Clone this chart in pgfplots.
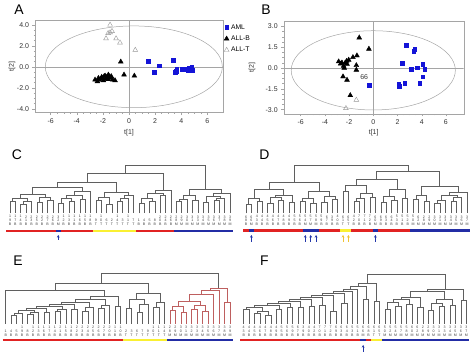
\documentclass[border=0pt]{standalone}
\usepackage{fontspec}
\setmainfont{Liberation Sans}
\usepackage{pgfplots}
\pgfplotsset{compat=1.18}
\usetikzlibrary{arrows.meta}
\definecolor{sqblue}{RGB}{20,20,215}
\definecolor{barred}{RGB}{225,35,35}
\definecolor{baryel}{RGB}{250,240,50}
\definecolor{barblue}{RGB}{35,45,165}
\definecolor{arrblue}{RGB}{35,55,170}
\definecolor{arryel}{RGB}{240,195,50}
\definecolor{dgray}{RGB}{95,95,95}
\definecolor{amlred}{RGB}{190,95,95}
\definecolor{axgray}{RGB}{165,165,165}
\definecolor{tgray}{RGB}{150,150,150}
\newcommand{\mg}[5]{\addplot[dend] coordinates {(#1,#2) (#1,#5) (#3,#5) (#3,#4)};}
\newcommand{\mgr}[5]{\addplot[dendr] coordinates {(#1,#2) (#1,#5) (#3,#5) (#3,#4)};}
\newcommand{\Lb}[3]{#1\\#2\\#3}
\newcommand{\Ls}[2]{\phantom{0}\\#1\\#2}
\pgfplotsset{
  scat/.style={scale only axis, anchor=south west,
    axis line style={axgray, line width=0.4bp},
    tick style={axgray, line width=0.4bp},
    tick align=outside, xtick pos=bottom, ytick pos=left,
    major tick length=2.5bp, minor tick length=1.3bp,
    minor x tick num=3, minor y tick num=3,
    tick label style={font=\fontsize{7}{8}\selectfont, text=black!80},
    label style={font=\fontsize{7}{8}\selectfont, text=black!80},
    /pgf/number format/assume math mode=true},
  dendro/.style={scale only axis, anchor=south west,
    axis line style={draw=none}, tick style={draw=none},
    major tick length=0pt, ytick=\empty, xtick={1,...,42},
    xmin=1, xmax=42, ymin=0, clip=false,
    xticklabel style={align=center, font=\fontsize{3.6}{3.8}\selectfont,
      text=black!75, inner sep=0pt, yshift=-2bp}},
  dend/.style={dgray, line width=0.5bp, no markers},
  dendr/.style={amlred, line width=0.5bp, no markers},
  cbar/.style={line width=2.5bp, no markers},
  arr/.style={line width=0.7bp, no markers, -{Stealth[length=2.6bp,width=2.8bp]}},
}
\begin{document}
\begin{tikzpicture}
\useasboundingbox (0,0) rectangle (474bp,353bp);
\begin{scope}[font=\fontsize{14}{16}\selectfont]
\node at (19bp,343bp) {A};
\node at (266bp,343.5bp) {B};
\node at (17bp,198.3bp) {C};
\node at (264.5bp,198.3bp) {D};
\node at (18bp,92bp) {E};
\node at (264.3bp,92bp) {F};
\end{scope}

% ---------------- Panel A ----------------
\begin{axis}[scat, at={(35bp,240.3bp)}, width=188bp, height=92bp,
  xmin=-7.2, xmax=7.2, ymin=-4.38, ymax=4.4,
  xtick={-6,-4,-2,0,2,4,6}, ytick={-4,-2,0,2,4},
  yticklabel style={/pgf/number format/fixed, /pgf/number format/fixed zerofill, /pgf/number format/precision=1},
  xlabel={t[1]}, ylabel={t[2]},
  xlabel style={at={(axis description cs:0.5,-0.217)}, anchor=center},
  ylabel style={at={(axis description cs:-0.122,0.5)}, anchor=center},
  legend style={at={(1.0,0.995)}, anchor=north west, draw=none, fill=none,
    inner sep=1bp, row sep=1.2bp, font=\fontsize{6.8}{8}\selectfont},
  legend cell align=left,
  legend image code/.code={\draw[#1] plot coordinates {(0.12cm,0cm)};}]
\addplot[axgray, line width=0.4bp, forget plot] coordinates {(0,-4.38) (0,4.4)};
\addplot[axgray, line width=0.4bp, forget plot] coordinates {(-7.2,0) (7.2,0)};
\draw[axgray, line width=0.5bp] (axis cs:0.37,0) ellipse [x radius=6.78, y radius=3.9];
\addplot[only marks, mark=square*, mark size=1.9bp, sqblue] coordinates {
(1.5,0.5) (2.3,0.1) (1.9,-0.55) (3.4,0.65) (3.6,-0.4) (3.65,-0.2) (3.55,-0.5)
(4.1,-0.2) (4.4,-0.25) (4.6,-0.15) (4.8,-0.05) (4.85,-0.3) (4.5,-0.3)};
\addlegendentry{AML}
\addplot[only marks, mark=triangle*, mark size=2.8bp, black] coordinates {
(-2.6,-1.24) (-2.34,-1.08) (-2.09,-0.98) (-1.83,-0.86) (-1.76,-1.17) (-1.58,-0.76)
(-1.45,-1.08) (-1.25,-1.24) (-1.07,-1.3) (-2.42,-1.4) (-1.96,-1.3) (-2.18,-1.17)
(-1.7,-0.98) (-1.36,-0.91) (-2.0,-1.1) (-1.6,-1.2) (-2.3,-1.25) (-1.5,-0.95)
(-1.9,-0.9) (-0.63,0.48) (-0.38,-0.76) (0.41,-0.86)};
\addlegendentry{ALL-B}
\addplot[only marks, mark=triangle, mark size=2.8bp, tgray, mark options={fill=white}] coordinates {
(-1.45,4.0) (-1.45,3.27) (-1.6,3.2) (-1.76,2.7) (-0.99,2.7) (-0.69,2.3) (0.48,1.6) (-1.3,3.4)};
\addlegendentry{ALL-T}
\end{axis}

% ---------------- Panel B ----------------
\begin{axis}[scat, at={(283.7bp,239bp)}, width=180bp, height=93bp,
  xmin=-7.4, xmax=7.47, ymin=-3.31, ymax=3.38,
  xtick={-6,-4,-2,0,2,4,6}, ytick={-3,-1.5,0,1.5,3},
  yticklabel style={/pgf/number format/fixed, /pgf/number format/fixed zerofill, /pgf/number format/precision=1},
  xlabel={t[1]}, ylabel={t[2]},
  xlabel style={at={(axis description cs:0.5,-0.2)}, anchor=center},
  ylabel style={at={(axis description cs:-0.176,0.5)}, anchor=center}]
\addplot[axgray, line width=0.4bp] coordinates {(0,-3.31) (0,3.38)};
\addplot[axgray, line width=0.4bp] coordinates {(-7.4,0) (7.47,0)};
\draw[axgray, line width=0.5bp] (axis cs:0,-0.17) ellipse [x radius=6.78, y radius=2.85];
\addplot[only marks, mark=square*, mark size=1.9bp, sqblue] coordinates {
(-0.36,-1.25) (2.73,1.65) (3.42,1.34) (3.34,1.22) (2.37,0.34) (3.14,-0.07) (3.64,0.02)
(4.08,0.29) (4.25,-0.10) (4.08,-0.62) (3.83,-1.1) (2.6,-1.1) (2.1,-1.18) (2.12,-1.3)};
\addplot[only marks, mark=triangle*, mark size=2.8bp, black] coordinates {
(-1.16,2.18) (-0.36,1.37) (-1.35,0.89) (-1.68,0.77) (-2.03,0.58) (-2.86,0.46) (-2.59,0.38)
(-2.31,0.38) (-2.17,0.29) (-2.45,0.14) (-2.4,0.0) (-1.4,0.19) (-1.4,-0.14) (-2.5,-0.62)
(-2.17,-0.86) (-1.9,-1.97) (-2.7,0.3) (-2.2,0.5)};
\addplot[only marks, mark=triangle, mark size=2.8bp, tgray, mark options={fill=white}] coordinates {
(-1.4,-2.3) (-2.26,-2.9)};
\node[font=\fontsize{7}{8}\selectfont, text=black!80] at (axis cs:-0.75,-0.62) {66};
\end{axis}

% ---------------- Panel C ----------------
\begin{axis}[dendro, at={(10bp,139.7bp)}, width=220bp, height=48.3bp, ymax=48.3,
  xticklabels={\Lb19B,\Lb17B,\Lb14B,\Lb21B,\Lb23B,\Lb25B,\Lb22B,\Lb27B,\Lb26B,\Lb32M,\Lb12B,\Lb13B,\Lb11B,\Lb16B,\Lb15B,\Lb18B,\Ls9T,\Lb10T,\Ls6T,\Ls2T,\Lb14T,\Ls3T,\Lb11T,\Ls7T,\Ls1B,\Ls4B,\Ls5B,\Ls8B,\Lb20B,\Lb24B,\Lb26B,\Lb28M,\Lb29M,\Lb30M,\Lb31M,\Lb33M,\Lb34M,\Lb35M,\Lb36M,\Lb37M,\Lb38M,\Lb39M}]
\mg{1}{0}{2}{0}{12}
\mg{3}{0}{4}{0}{9}
\mg{3.5}{9}{5}{0}{12}
\mg{1.5}{12}{4.25}{12}{15}
\mg{6}{0}{7}{0}{11}
\mg{8}{0}{9}{0}{13}
\mg{6.5}{11}{8.5}{13}{16}
\mg{2.875}{15}{7.5}{16}{19}
\mg{10}{0}{11}{0}{10}
\mg{12}{0}{13}{0}{12}
\mg{10.5}{10}{12.5}{12}{15}
\mg{14}{0}{15}{0}{14}
\mg{11.5}{15}{14.5}{14}{18}
\mg{13}{18}{16}{0}{22}
\mg{5.1875}{19}{14.5}{22}{26.3}
\mg{17}{0}{18}{0}{13}
\mg{19}{0}{20}{0}{9}
\mg{17.5}{13}{19.5}{9}{16}
\mg{21}{0}{22}{0}{12}
\mg{21.5}{12}{23}{0}{15}
\mg{22.25}{15}{24}{0}{18}
\mg{18.5}{16}{23.125}{18}{21.3}
\mg{9.84375}{26.3}{20.8125}{21.3}{31.3}
\mg{25}{0}{26}{0}{10}
\mg{27}{0}{28}{0}{12}
\mg{25.5}{10}{27.5}{12}{15}
\mg{29}{0}{30}{0}{18}
\mg{26.5}{15}{29.5}{18}{20}
\mg{28}{20}{31}{0}{23}
\mg{15.328}{31.3}{29.5}{23}{39.7}
\mg{32}{0}{33}{0}{12}
\mg{32.5}{12}{34}{0}{14}
\mg{35}{0}{36}{0}{13}
\mg{33.25}{14}{35.5}{13}{18}
\mg{37}{0}{38}{0}{11}
\mg{39}{0}{40}{0}{13}
\mg{39.5}{13}{41}{0}{15}
\mg{37.5}{11}{40.25}{15}{17}
\mg{38.875}{17}{42}{0}{20}
\mg{34.375}{18}{40.4375}{20}{23.7}
\mg{22.414}{39.7}{37.406}{23.7}{48.3}
\addplot[cbar, barred] coordinates {(0.3,-17.7) (9.5,-17.7)};
\addplot[cbar, barblue] coordinates {(9.5,-17.7) (10.5,-17.7)};
\addplot[cbar, barred] coordinates {(10.5,-17.7) (16.5,-17.7)};
\addplot[cbar, baryel] coordinates {(16.5,-17.7) (24.5,-17.7)};
\addplot[cbar, barred] coordinates {(24.5,-17.7) (31.5,-17.7)};
\addplot[cbar, barblue] coordinates {(31.5,-17.7) (42.6,-17.7)};
\addplot[arr, arrblue] coordinates {(10,-26.7) (10,-21.7)};
\end{axis}

% ---------------- Panel D ----------------
\begin{axis}[dendro, at={(246bp,139.7bp)}, width=221bp, height=48.3bp, ymax=48.3,
  xticklabels={\Lb68B,\Lb66M,\Lb43B,\Lb44B,\Lb45B,\Lb46B,\Lb47B,\Lb48B,\Lb49B,\Lb55B,\Lb56B,\Lb54M,\Lb57M,\Lb58M,\Lb59B,\Lb67B,\Lb39B,\Lb40B,\Lb61T,\Lb65T,\Lb42B,\Lb70B,\Lb71B,\Lb72B,\Lb60M,\Lb69B,\Lb63B,\Lb64B,\Lb53B,\Lb51B,\Lb52B,\Lb50M,\Lb62M,\Lb28M,\Lb29M,\Lb30M,\Lb31M,\Lb33M,\Lb34M,\Lb35M,\Lb36M,\Lb37M}]
\mg{1}{0}{2}{0}{9}
\mg{3}{0}{4}{0}{12}
\mg{1.5}{9}{3.5}{12}{15}
\mg{5}{0}{6}{0}{10}
\mg{7}{0}{8}{0}{13}
\mg{5.5}{10}{7.5}{13}{16}
\mg{9}{0}{10}{0}{11}
\mg{6.5}{16}{9.5}{11}{18}
\mg{2.5}{15}{8}{18}{24}
\mg{11}{0}{12}{0}{12}
\mg{13}{0}{14}{0}{10}
\mg{11.5}{12}{13.5}{10}{15}
\mg{15}{0}{16}{0}{11}
\mg{17}{0}{18}{0}{14}
\mg{15.5}{11}{17.5}{14}{17}
\mg{12.5}{15}{16.5}{17}{21.7}
\mg{5.25}{24}{14.5}{21.7}{30.7}
\mg{19}{0}{20}{0}{22}
\mg{21}{0}{22}{0}{12}
\mg{21.5}{12}{23}{0}{15}
\mg{24}{0}{25}{0}{16}
\mg{22.25}{15}{24.5}{16}{20}
\mg{19.5}{22}{23.375}{20}{28}
\mg{26}{0}{27}{0}{11}
\mg{28}{0}{29}{0}{13}
\mg{26.5}{11}{28.5}{13}{17}
\mg{30}{0}{31}{0}{15}
\mg{27.5}{17}{30.5}{15}{24}
\mg{21.4375}{28}{29}{24}{34}
\mg{32}{0}{33}{0}{14}
\mg{34}{0}{35}{0}{12}
\mg{32.5}{14}{34.5}{12}{18}
\mg{36}{0}{37}{0}{10}
\mg{36.5}{10}{38}{0}{13}
\mg{39}{0}{40}{0}{12}
\mg{39.5}{12}{41}{0}{16}
\mg{37.25}{13}{40.25}{16}{18.5}
\mg{38.75}{18.5}{42}{0}{21}
\mg{33.5}{18}{40.375}{21}{26.7}
\mg{25.219}{34}{36.9375}{26.7}{41.7}
\mg{9.875}{30.7}{31.078}{41.7}{48.3}
\addplot[cbar, barred] coordinates {(0.45,-17.4) (1.5,-17.4)};
\addplot[cbar, barblue] coordinates {(1.5,-17.4) (2.5,-17.4)};
\addplot[cbar, barred] coordinates {(2.5,-17.4) (11.5,-17.4)};
\addplot[cbar, barblue] coordinates {(11.5,-17.4) (14.5,-17.4)};
\addplot[cbar, barred] coordinates {(14.5,-17.4) (18.5,-17.4)};
\addplot[cbar, baryel] coordinates {(18.5,-17.4) (20.5,-17.4)};
\addplot[cbar, barred] coordinates {(20.5,-17.4) (24.5,-17.4)};
\addplot[cbar, barblue] coordinates {(24.5,-17.4) (25.5,-17.4)};
\addplot[cbar, barred] coordinates {(25.5,-17.4) (31.5,-17.4)};
\addplot[cbar, barblue] coordinates {(31.5,-17.4) (42.6,-17.4)};
\addplot[arr, arrblue] coordinates {(2,-28.7) (2,-21.7)};
\addplot[arr, arrblue] coordinates {(12,-28.7) (12,-21.7)};
\addplot[arr, arrblue] coordinates {(13,-28.7) (13,-21.7)};
\addplot[arr, arrblue] coordinates {(14,-28.7) (14,-21.7)};
\addplot[arr, arryel] coordinates {(19,-28.7) (19,-21.7)};
\addplot[arr, arryel] coordinates {(20,-28.7) (20,-21.7)};
\addplot[arr, arrblue] coordinates {(25,-28.7) (25,-21.7)};
\end{axis}

% ---------------- Panel E ----------------
\begin{axis}[dendro, at={(5.7bp,29bp)}, width=224.3bp, height=50.7bp, ymax=50.7,
  xticklabels={\Ls1B,\Ls4B,\Ls5B,\Lb19B,\Ls8B,\Lb12B,\Lb13B,\Lb16B,\Lb17B,\Lb14B,\Lb21B,\Lb15B,\Lb18B,\Lb22B,\Lb23B,\Lb24B,\Lb25B,\Lb26B,\Lb27B,\Lb20B,\Lb11B,\Lb10B,\Ls2T,\Ls3T,\Ls6T,\Ls7T,\Ls9T,\Lb10T,\Lb11T,\Lb14T,\Lb28M,\Lb29M,\Lb30M,\Lb31M,\Lb32M,\Lb33M,\Lb34M,\Lb35M,\Lb36M,\Lb37M,\Lb38M,\Lb39M}]
\mg{2}{0}{3}{0}{9}
\mg{2.5}{9}{4}{0}{11}
\mg{5}{0}{6}{0}{10}
\mg{5.5}{10}{7}{0}{12}
\mg{3.25}{11}{6.25}{12}{14}
\mg{8}{0}{9}{0}{12}
\mg{4.75}{14}{8.5}{12}{16}
\mg{10}{0}{11}{0}{13}
\mg{10.5}{13}{12}{0}{15}
\mg{6.625}{16}{11.25}{15}{18}
\mg{13}{0}{14}{0}{15}
\mg{8.9375}{18}{13.5}{15}{20}
\mg{15}{0}{16}{0}{13}
\mg{15.5}{13}{17}{0}{17}
\mg{11.219}{20}{16.25}{17}{22}
\mg{18}{0}{19}{0}{16}
\mg{18.5}{16}{20}{0}{19}
\mg{13.734}{22}{19.25}{19}{25}
\mg{21}{0}{22}{0}{18}
\mg{16.492}{25}{21.5}{18}{28}
\mg{1}{0}{18.996}{28}{33.3}
\mg{23}{0}{24}{0}{16}
\mg{25}{0}{26}{0}{12}
\mg{25.5}{12}{27}{0}{20}
\mg{23.5}{16}{26.25}{20}{25}
\mg{28}{0}{29}{0}{17}
\mg{28.5}{17}{30}{0}{22}
\mg{24.875}{25}{29.25}{22}{30.7}
\mg{9.998}{33.3}{27.0625}{30.7}{40.7}
\mgr{31}{0}{32}{0}{14}
\mgr{33}{0}{34}{0}{12}
\mgr{31.5}{14}{33.5}{12}{18}
\mgr{35}{0}{36}{0}{15}
\mgr{37}{0}{38}{0}{13}
\mgr{35.5}{15}{37.5}{13}{19}
\mgr{32.5}{18}{36.5}{19}{23}
\mgr{34.5}{23}{39}{0}{30}
\mgr{36.75}{30}{40}{0}{34}
\mgr{41}{0}{42}{0}{22}
\mgr{38.375}{34}{41.5}{22}{35.7}
\mg{18.53}{40.7}{39.9375}{35.7}{50.7}
\addplot[cbar, barred] coordinates {(0.45,-16) (22.5,-16)};
\addplot[cbar, baryel] coordinates {(22.5,-16) (30.5,-16)};
\addplot[cbar, barblue] coordinates {(30.5,-16) (42.6,-16)};
\end{axis}

% ---------------- Panel F ----------------
\begin{axis}[dendro, at={(243.7bp,29bp)}, width=222.6bp, height=50bp, ymax=50,
  xticklabels={\Lb43B,\Lb44B,\Lb45B,\Lb46B,\Lb47B,\Lb48B,\Lb49B,\Lb55B,\Lb56B,\Lb59B,\Lb67B,\Lb39B,\Lb40B,\Lb42B,\Lb70B,\Lb71B,\Lb72B,\Lb69B,\Lb63B,\Lb64B,\Lb53B,\Lb51B,\Lb66M,\Lb68B,\Lb61T,\Lb65T,\Lb50M,\Lb52M,\Lb54M,\Lb57M,\Lb58M,\Lb60M,\Lb62M,\Lb28M,\Lb29M,\Lb30M,\Lb31M,\Lb33M,\Lb34M,\Lb35M,\Lb36M,\Lb37M}]
\mg{1}{0}{2}{0}{15}
\mg{3}{0}{4}{0}{11}
\mg{5}{0}{6}{0}{9}
\mg{3.5}{11}{5.5}{9}{13}
\mg{1.5}{15}{4.5}{13}{17}
\mg{7}{0}{8}{0}{15}
\mg{3}{17}{7.5}{15}{19}
\mg{9}{0}{10}{0}{17}
\mg{5.25}{19}{9.5}{17}{21}
\mg{11}{0}{12}{0}{17}
\mg{7.375}{21}{11.5}{17}{23}
\mg{13}{0}{14}{0}{18}
\mg{9.4375}{23}{13.5}{18}{25}
\mg{15}{0}{16}{0}{19}
\mg{11.469}{25}{15.5}{19}{27}
\mg{17}{0}{18}{0}{13}
\mg{13.484}{27}{17.5}{13}{29}
\mg{19}{0}{20}{0}{21}
\mg{15.492}{29}{19.5}{21}{31}
\mg{17.496}{31}{21}{0}{33}
\mg{19.248}{33}{22}{0}{35}
\mg{23}{0}{24}{0}{25}
\mg{20.624}{35}{23.5}{25}{38}
\mg{25}{0}{26}{0}{22.3}
\mg{22.062}{38}{25.5}{22.3}{40.7}
\mg{27}{0}{28}{0}{15}
\mg{29}{0}{30}{0}{18}
\mg{27.5}{15}{29.5}{18}{22}
\mg{31}{0}{32}{0}{20}
\mg{28.5}{22}{31.5}{20}{25}
\mg{33}{0}{34}{0}{17}
\mg{30}{25}{33.5}{17}{27}
\mg{35}{0}{36}{0}{14}
\mg{37}{0}{38}{0}{18}
\mg{35.5}{14}{37.5}{18}{21}
\mg{39}{0}{40}{0}{19}
\mg{36.5}{21}{39.5}{19}{25}
\mg{31.75}{27}{38}{25}{32.3}
\mg{41}{0}{42}{0}{24}
\mg{34.875}{32.3}{41.5}{24}{34.7}
\mg{23.781}{40.7}{38.1875}{34.7}{50}
\addplot[cbar, barred] coordinates {(0.4,-16) (22.5,-16)};
\addplot[cbar, barblue] coordinates {(22.5,-16) (23.5,-16)};
\addplot[cbar, barred] coordinates {(23.5,-16) (24.5,-16)};
\addplot[cbar, baryel] coordinates {(24.5,-16) (26.5,-16)};
\addplot[cbar, barblue] coordinates {(26.5,-16) (42.45,-16)};
\addplot[arr, arrblue] coordinates {(23,-28) (23,-21)};
\end{axis}
\end{tikzpicture}
\end{document}
